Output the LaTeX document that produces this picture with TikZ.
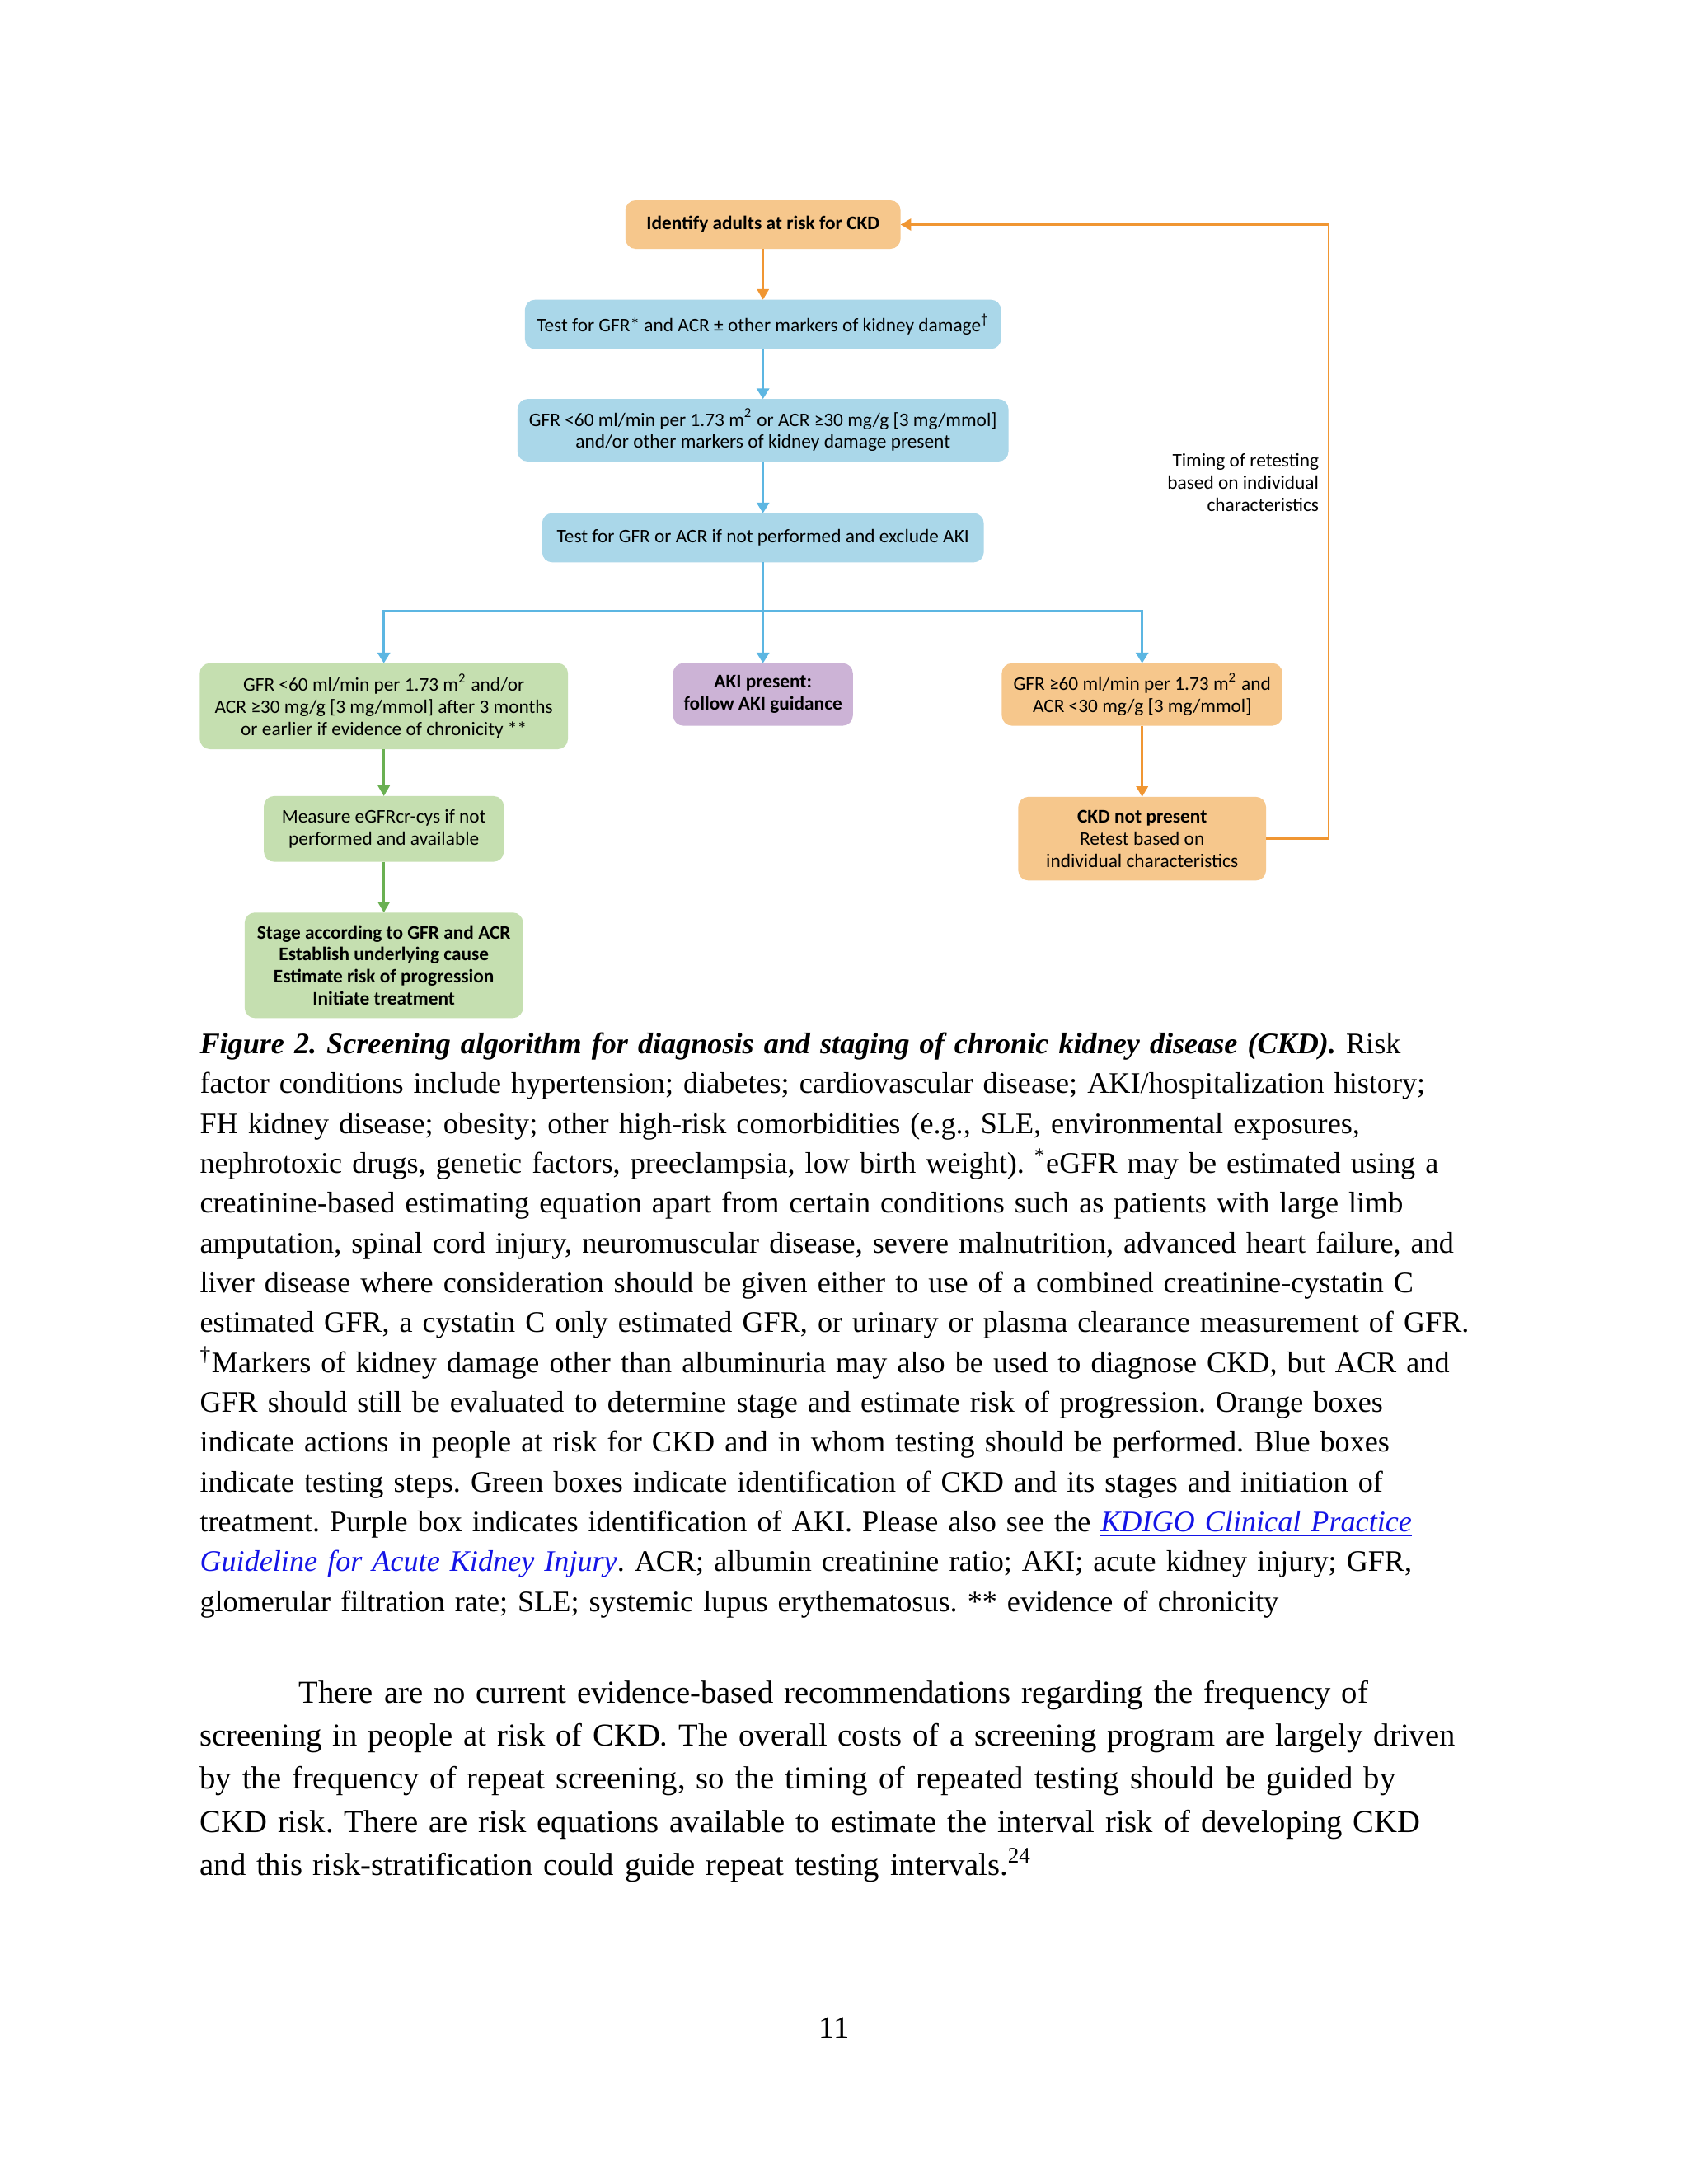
\documentclass[tikz,border=0pt]{standalone}
\usepackage{fontspec}
\setmainfont{Liberation Serif}
\newfontfamily\boxfont{Carlito}
\usetikzlibrary{positioning,arrows.meta,calc}
\definecolor{BoxOrange}{RGB}{246,199,140}
\definecolor{BoxBlue}{RGB}{170,215,233}
\definecolor{BoxGreen}{RGB}{197,223,176}
\definecolor{BoxPurple}{RGB}{204,179,214}
\definecolor{LineOrange}{RGB}{240,150,50}
\definecolor{LineBlue}{RGB}{92,182,226}
\definecolor{LineGreen}{RGB}{106,176,82}
\definecolor{LinkBlue}{RGB}{20,20,230}
\newcommand{\boxsize}{\fontsize{7}{8.07}\selectfont}
\frenchspacing

\begin{document}
\begin{tikzpicture}[x=1mm, y=1mm,
  flowbox/.style={rectangle, rounded corners=1.3mm, inner sep=0pt, outer sep=0pt,
    align=center, font=\boxfont\boxsize},
  boldbox/.style={font=\boxfont\bfseries\boxsize},
  obox/.style={flowbox, fill=BoxOrange},
  bbox/.style={flowbox, fill=BoxBlue},
  gbox/.style={flowbox, fill=BoxGreen},
  pbox/.style={flowbox, fill=BoxPurple},
  oarr/.style={-{Triangle[length=1.35mm, width=1.5mm]}, line width=0.8pt, LineOrange},
  barr/.style={-{Triangle[length=1.35mm, width=1.6mm]}, line width=0.8pt, LineBlue},
  garr/.style={-{Triangle[length=1.35mm, width=1.5mm]}, line width=0.8pt, LineGreen},
  body/.style={anchor=north west, inner sep=0pt, text width=500pt, align=left},
]
\path[fill=white, use as bounding box] (0,0) rectangle (215.9,-279.4);
% Main column
\node[obox, boldbox, minimum width=35.2mm, minimum height=6.22mm] (ident) at (97.6,-28.73)
  {Identify adults at risk for CKD};
\node[bbox, below=6.5mm of ident, minimum width=60.9mm, minimum height=6.3mm] (testgfr)
  {Test for GFR* and ACR ± other markers of kidney damage\textsuperscript{†}};
\node[bbox, below=6.4mm of testgfr, minimum width=62.8mm, minimum height=8mm] (gfrmark)
  {GFR <60 ml/min per 1.73 m\textsuperscript{2} or ACR ≥30 mg/g [3 mg/mmol]\\
   and/or other markers of kidney damage present};
\node[bbox, below=6.6mm of gfrmark, minimum width=56.5mm, minimum height=6.3mm] (exclaki)
  {Test for GFR or ACR if not performed and exclude AKI};
% Three outcomes
\node[pbox, boldbox, below=12.9mm of exclaki, minimum width=23mm, minimum height=8mm] (aki)
  {AKI present:\\follow AKI guidance};
\node[gbox, anchor=north, minimum width=47.1mm, minimum height=11mm] (ckdyes)
  at ([xshift=-48.5mm]aki.north)
  {GFR <60 ml/min per 1.73 m\textsuperscript{2} and/or\\
   ACR ≥30 mg/g [3 mg/mmol] after 3 months\\
   or earlier if evidence of chronicity **};
\node[obox, anchor=north, minimum width=35.9mm, minimum height=8mm] (gfrhigh)
  at ([xshift=48.5mm]aki.north)
  {GFR ≥60 ml/min per 1.73 m\textsuperscript{2} and\\ACR <30 mg/g [3 mg/mmol]};
% Left branch
\node[gbox, below=6.0mm of ckdyes, minimum width=30.7mm, minimum height=8.4mm] (measure)
  {Measure eGFRcr-cys if not\\performed and available};
\node[gbox, boldbox, below=6.5mm of measure, minimum width=35.6mm, minimum height=13.5mm] (stage)
  {Stage according to GFR and ACR\\Establish underlying cause\\
   Estimate risk of progression\\Initiate treatment};
% Right branch
\node[obox, below=9.1mm of gfrhigh, minimum width=31.7mm, minimum height=10.7mm] (retest)
  {\textbf{CKD not present}\\Retest based on\\individual characteristics};
\node[flowbox, anchor=east, align=right] (timing) at (168.7,-61.7)
  {Timing of retesting\\based on individual\\characteristics};
% Arrows
\draw[oarr] (ident) -- (testgfr);
\draw[barr] (testgfr) -- (gfrmark);
\draw[barr] (gfrmark) -- (exclaki);
\coordinate[below=6.2mm of exclaki.south] (fork);
\draw[barr] (exclaki) -- (aki);
\draw[barr] (fork) -| (ckdyes.north);
\draw[barr] (fork) -| (gfrhigh.north);
\draw[garr] (ckdyes) -- (measure);
\draw[garr] (measure) -- (stage);
\draw[oarr] (gfrhigh) -- (retest);
\draw[oarr] (retest.east) -- ++(8,0) |- (ident.east);
% Caption and text
\node[body, font=\fontsize{10.85}{14.5}\selectfont] (caption) at (25.5,-131.15)
  {\strut\textbf{\textit{Figure 2. Screening algorithm for diagnosis and staging of chronic kidney disease (CKD).}} Risk\\
   factor conditions include hypertension; diabetes; cardiovascular disease; AKI/hospitalization history;\\
   FH kidney disease; obesity; other high-risk comorbidities (e.g., SLE, environmental exposures,\\
   nephrotoxic drugs, genetic factors, preeclampsia, low birth weight). \textsuperscript{*}eGFR may be estimated using a\\
   creatinine-based estimating equation apart from certain conditions such as patients with large limb\\
   amputation, spinal cord injury, neuromuscular disease, severe malnutrition, advanced heart failure, and\\
   liver disease where consideration should be given either to use of a combined creatinine-cystatin C\\
   estimated GFR, a cystatin C only estimated GFR, or urinary or plasma clearance measurement of GFR.\\
   \textsuperscript{†}Markers of kidney damage other than albuminuria may also be used to diagnose CKD, but ACR and\\
   GFR should still be evaluated to determine stage and estimate risk of progression. Orange boxes\\
   indicate actions in people at risk for CKD and in whom testing should be performed. Blue boxes\\
   indicate testing steps. Green boxes indicate identification of CKD and its stages and initiation of\\
   treatment. Purple box indicates identification of AKI. Please also see the \textcolor{LinkBlue}{\underline{\textit{KDIGO Clinical Practice}}}\\
   \textcolor{LinkBlue}{\underline{\textit{Guideline for Acute Kidney Injury}}}. ACR; albumin creatinine ratio; AKI; acute kidney injury; GFR,\\
   glomerular filtration rate; SLE; systemic lupus erythematosus. ** evidence of chronicity};
\node[body, font=\fontsize{11.6}{15.7}\selectfont] (para) at (25.5,-213.9)
  {\strut\hspace*{0.5in}There are no current evidence-based recommendations regarding the frequency of\\
   screening in people at risk of CKD. The overall costs of a screening program are largely driven\\
   by the frequency of repeat screening, so the timing of repeated testing should be guided by\\
   CKD risk. There are risk equations available to estimate the interval risk of developing CKD\\
   and this risk-stratification could guide repeat testing intervals.\textsuperscript{24}};
\node[anchor=base, inner sep=0pt, font=\fontsize{11.6}{14}\selectfont] (pagenum) at (106.7,-260.8) {11};
\end{tikzpicture}
\end{document}
